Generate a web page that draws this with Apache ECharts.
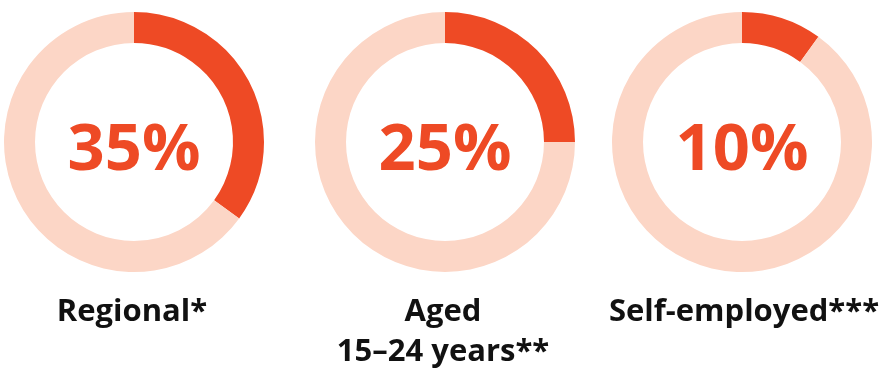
<!DOCTYPE html>
<html><head><meta charset="utf-8">
<script src="https://cdn.jsdelivr.net/npm/echarts@6/dist/echarts.min.js"></script>
<style>html,body{margin:0;padding:0;background:#fff}#c{width:887px;height:375px}</style>
</head><body><div id="c"></div>
<script>
const categories = ['Regional*', 'Aged\n15–24 years**', 'Self-employed***'];
const values = [35, 25, 10];
const centersX = [134, 445, 742];
const labelX = [127, 438, 739];

const ACCENT = '#EE4A25';
const LIGHT = '#FCD6C6';
const FONT = '"Open Sans"';

const series = values.map((v, i) => ({
  type: 'pie',
  silent: true,
  animation: false,
  center: [centersX[i], 142],
  radius: [99, 130],
  startAngle: 90,
  clockwise: true,
  labelLine: { show: false },
  emphasis: { disabled: true },
  data: [
    { value: v, itemStyle: { color: ACCENT },
      label: { show: true, position: 'center', formatter: '{c}%', offset: [0, 9],
        color: ACCENT, fontFamily: FONT, fontWeight: 'bold', fontSize: 65 } },
    { value: 100 - v, itemStyle: { color: LIGHT }, label: { show: false } }
  ]
}));

const titles = categories.map((c, i) => ({
  text: c,
  left: labelX[i],
  top: 287,
  textAlign: 'center',
  textStyle: { fontFamily: FONT, fontWeight: 'bold', fontSize: 31, color: '#111', lineHeight: 40 }
}));

const chart = echarts.init(document.getElementById('c'));
chart.setOption({ animation: false, title: titles, series: series });
</script></body></html>
